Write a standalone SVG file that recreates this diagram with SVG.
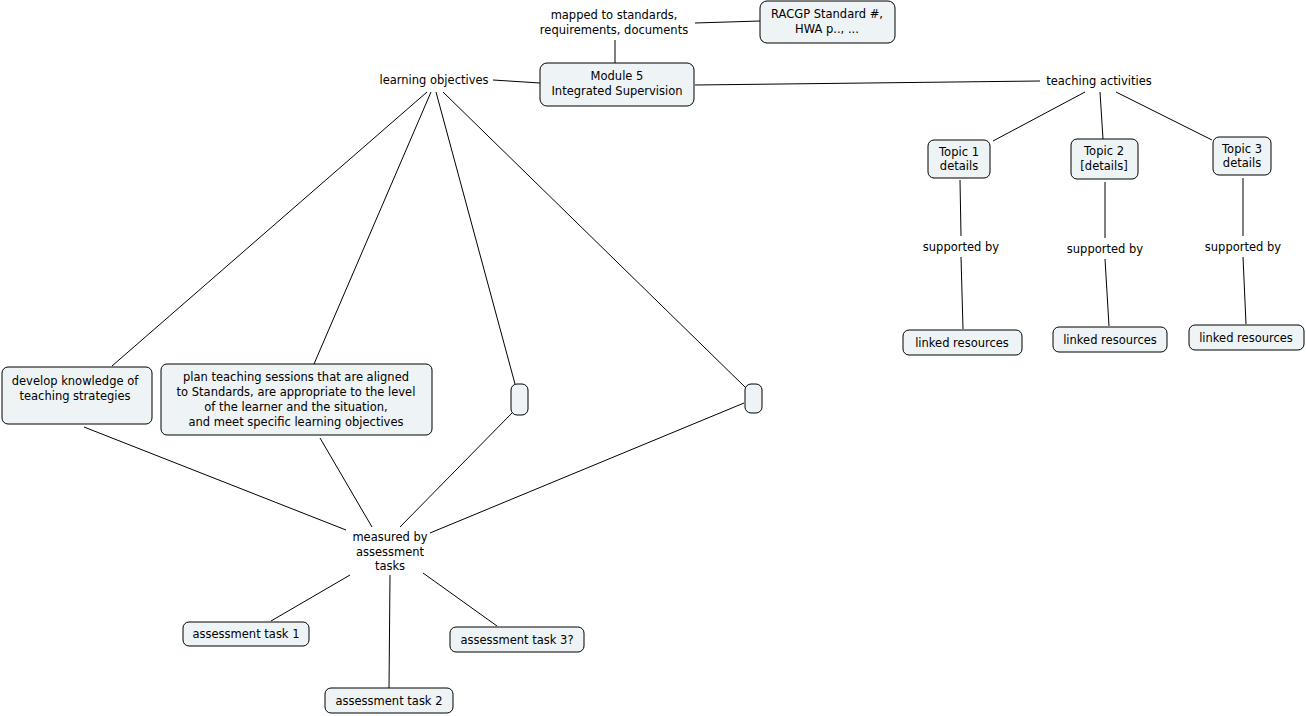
<svg xmlns="http://www.w3.org/2000/svg" width="1306" height="716" viewBox="0 0 1306 716">
<style>
rect{fill:#eef3f6;stroke:#000;stroke-width:1}
text{font-family:"DejaVu Sans",Verdana,sans-serif;font-size:11.5px;fill:#000;text-anchor:middle}
#conn line{stroke:#000;stroke-width:1}
</style>
<rect x="0" y="0" width="1306" height="716" style="fill:#fff;stroke:none"/>
<g id="conn">
<line x1="615" y1="40" x2="615" y2="63"/>
<line x1="695" y1="23" x2="760" y2="21"/>
<line x1="493" y1="80" x2="540" y2="83"/>
<line x1="695" y1="85" x2="1040" y2="81"/>
<line x1="1085" y1="92" x2="993" y2="141"/>
<line x1="1100" y1="92" x2="1103" y2="139"/>
<line x1="1116" y1="92" x2="1212" y2="140"/>
<line x1="960" y1="180" x2="961" y2="236"/>
<line x1="961" y1="257" x2="963" y2="329"/>
<line x1="1105" y1="182" x2="1105" y2="238"/>
<line x1="1105" y1="259" x2="1109" y2="326"/>
<line x1="1243" y1="178" x2="1243" y2="236"/>
<line x1="1243" y1="257" x2="1246" y2="324"/>
<line x1="427" y1="92" x2="112" y2="366"/>
<line x1="431" y1="92" x2="314" y2="364"/>
<line x1="436" y1="92" x2="515" y2="384"/>
<line x1="443" y1="92" x2="746" y2="388"/>
<line x1="84" y1="427" x2="346" y2="530"/>
<line x1="320" y1="438" x2="372" y2="527"/>
<line x1="512" y1="413" x2="400" y2="527"/>
<line x1="744" y1="403" x2="430" y2="533"/>
<line x1="350" y1="575" x2="271" y2="621"/>
<line x1="390" y1="575" x2="389" y2="688"/>
<line x1="423" y1="573" x2="497" y2="626"/>
</g>
<g id="mapped"><text x="614" y="19">mapped to standards,</text><text x="614" y="34">requirements, documents</text></g>
<g id="racgp"><rect x="760" y="1" width="135" height="42" rx="7"/><text x="827" y="18">RACGP Standard #,</text><text x="827" y="33">HWA p.., ...</text></g>
<g id="module"><rect x="540" y="63" width="154" height="43" rx="7"/><text x="617" y="80">Module 5</text><text x="617" y="95">Integrated Supervision</text></g>
<g id="lo"><text x="434" y="84">learning objectives</text></g>
<g id="ta"><text x="1099" y="85">teaching activities</text></g>
<g id="t1"><rect x="928" y="140" width="62" height="38" rx="6"/><text x="959" y="156">Topic 1</text><text x="959" y="170">details</text></g>
<g id="t2"><rect x="1071" y="139" width="67" height="40" rx="6"/><text x="1104" y="155">Topic 2</text><text x="1104" y="170">[details]</text></g>
<g id="t3"><rect x="1213" y="137" width="58" height="38" rx="6"/><text x="1242" y="153">Topic 3</text><text x="1242" y="167">details</text></g>
<g id="s1"><text x="961" y="251">supported by</text></g>
<g id="s2"><text x="1105" y="253">supported by</text></g>
<g id="s3"><text x="1243" y="251">supported by</text></g>
<g id="r1"><rect x="903" y="330" width="119" height="25" rx="6"/><text x="962" y="347">linked  resources</text></g>
<g id="r2"><rect x="1053" y="327" width="114" height="25" rx="6"/><text x="1110" y="344">linked resources</text></g>
<g id="r3"><rect x="1189" y="325" width="115" height="25" rx="6"/><text x="1246" y="342">linked resources</text></g>
<g id="dk"><rect x="2" y="367" width="150" height="57" rx="6"/><text x="75" y="385">develop knowledge of</text><text x="75" y="400">teaching strategies</text></g>
<g id="plan"><rect x="161" y="364" width="271" height="71" rx="6"/><text x="296" y="381">plan teaching sessions that are aligned</text><text x="296" y="396">to Standards, are appropriate to the level</text><text x="296" y="411">of the learner and the situation,</text><text x="296" y="426">and meet specific learning objectives</text></g>
<g id="e1"><rect x="511" y="384" width="17" height="31" rx="6"/></g>
<g id="e2"><rect x="745" y="384" width="17" height="29" rx="6"/></g>
<g id="mb"><text x="390" y="541">measured by</text><text x="390" y="556">assessment</text><text x="390" y="570">tasks</text></g>
<g id="a1"><rect x="183" y="622" width="126" height="24" rx="6"/><text x="246" y="638">assessment task 1</text></g>
<g id="a2"><rect x="325" y="688" width="128" height="25" rx="6"/><text x="389" y="705">assessment task 2</text></g>
<g id="a3"><rect x="450" y="627" width="134" height="25" rx="6"/><text x="517" y="644">assessment task 3?</text></g>
</svg>
